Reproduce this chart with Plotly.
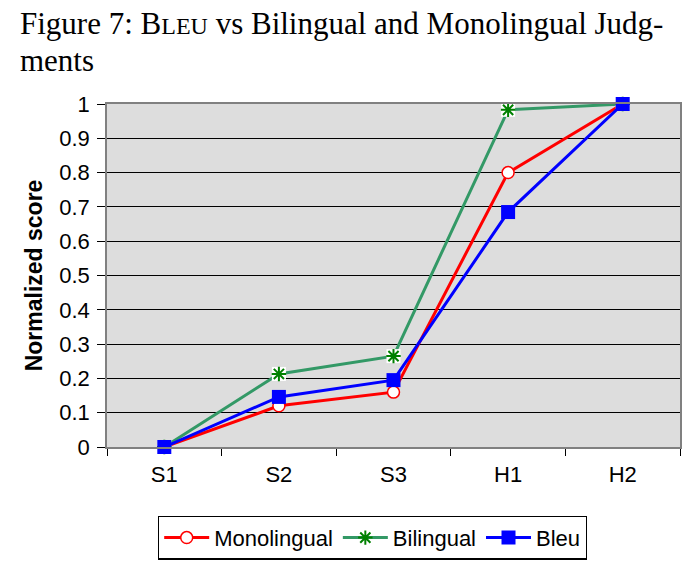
import plotly.graph_objects as go

categories = ["S1", "S2", "S3", "H1", "H2"]
monolingual = [0.0, 0.12, 0.16, 0.80, 1.0]
bilingual = [0.0, 0.213, 0.265, 0.983, 1.0]
bleu = [0.0, 0.146, 0.195, 0.685, 1.0]
y_ticks = [0, 0.1, 0.2, 0.3, 0.4, 0.5, 0.6, 0.7, 0.8, 0.9, 1]
y_tick_text = ["0", "0.1", "0.2", "0.3", "0.4", "0.5", "0.6", "0.7", "0.8", "0.9", "1"]

fig = go.Figure()
fig.add_trace(go.Scatter(
    x=categories, y=monolingual, name="Monolingual", mode="lines+markers",
    line=dict(color="#FF0000", width=3),
    marker=dict(symbol="circle", size=12, color="white", line=dict(color="#FF0000", width=1.5)),
    cliponaxis=False))
fig.add_trace(go.Scatter(
    x=categories, y=bilingual, name="Bilingual", mode="lines+markers",
    line=dict(color="#339966", width=3),
    marker=dict(symbol="square", size=14, color="white", line=dict(width=0)),
    showlegend=False, cliponaxis=False))
fig.add_trace(go.Scatter(
    x=categories, y=bilingual, name="Bilingual", mode="markers",
    marker=dict(symbol="asterisk-open", size=12, color="#008000", line=dict(color="#008000", width=2)),
    showlegend=False, cliponaxis=False))
fig.add_trace(go.Scatter(
    x=[None], y=[None], name="Bilingual", mode="lines+markers",
    line=dict(color="#339966", width=3),
    marker=dict(symbol="asterisk-open", size=12, color="#008000", line=dict(color="#008000", width=2))))
fig.add_trace(go.Scatter(
    x=categories, y=bleu, name="Bleu", mode="lines+markers",
    line=dict(color="#0000FF", width=3),
    marker=dict(symbol="square", size=14, color="#0000FF"),
    cliponaxis=False))

fig.update_layout(
    width=692, height=566,
    margin=dict(l=107, r=12, t=104, b=119, autoexpand=False),
    paper_bgcolor="white", plot_bgcolor="#DDDDDD",
    font=dict(family="Liberation Sans, Arial, sans-serif", size=22, color="black"),
    xaxis=dict(
        type="category", range=[-0.5, 4.5], showgrid=False, automargin=False,
        ticks="outside", tickson="boundaries", ticklen=7, tickcolor="black",
        showline=True, linecolor="#808080", linewidth=1.5, mirror=True,
        tickfont=dict(size=22), ticklabelstandoff=7),
    yaxis=dict(
        range=[0, 1], tickvals=y_ticks, ticktext=y_tick_text, automargin=False,
        showgrid=True, gridcolor="black", gridwidth=1,
        ticks="outside", ticklen=8, tickcolor="black",
        showline=True, linecolor="#808080", linewidth=1.5, mirror=True,
        zeroline=False, tickfont=dict(size=22), ticklabelstandoff=3,
        title=dict(text="<b>Normalized score</b>", font=dict(size=23), standoff=10)),
    legend=dict(
        orientation="h", x=0.089, xanchor="left", y=-0.2, yanchor="top",
        bordercolor="black", borderwidth=1.2, bgcolor="white",
        font=dict(size=22), itemwidth=45, tracegroupgap=0),
    showlegend=True,
)

title_font = dict(family="Liberation Serif, Times New Roman, serif", size=31, color="black")
fig.add_annotation(
    xref="paper", yref="paper", x=-89/573, y=(447 - 4) / 343, xanchor="left", yanchor="top",
    text="Figure 7: B<span style='font-size:24px'>LEU</span> vs Bilingual and Monolingual Judg-",
    showarrow=False, align="left", font=title_font)
fig.add_annotation(
    xref="paper", yref="paper", x=-89/573, y=(447 - 41) / 343, xanchor="left", yanchor="top",
    text="ments",
    showarrow=False, align="left", font=title_font)

fig.write_html("out.html")
